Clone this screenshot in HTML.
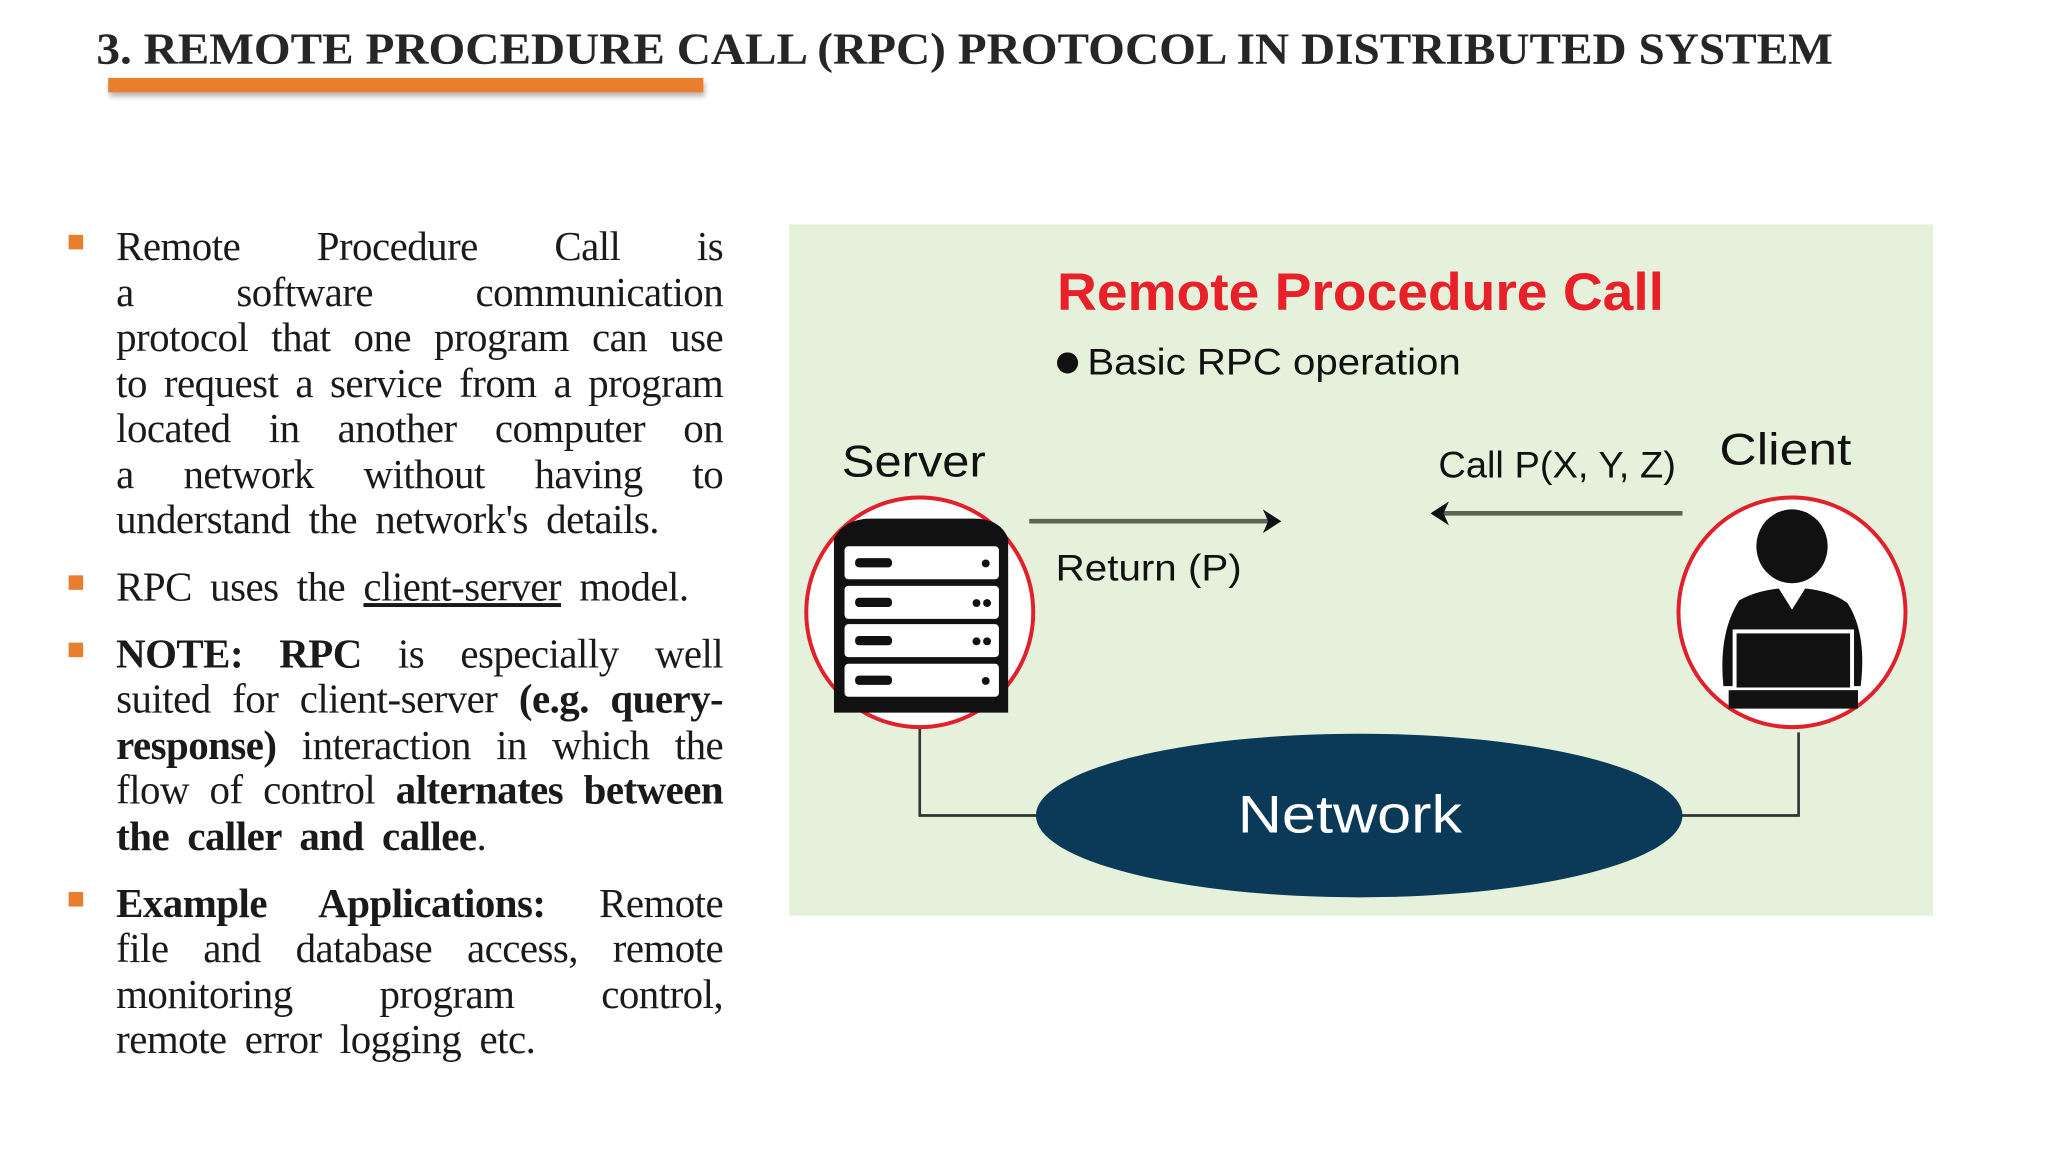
<!DOCTYPE html>
<html><head><meta charset="utf-8"><style>
html,body{margin:0;padding:0;background:#fff;width:2048px;height:1152px;overflow:hidden}
#w{position:absolute;left:0;top:0;width:1552px;height:873px;transform:scale(1.31959);transform-origin:0 0}
svg{position:absolute;left:0;top:0;display:block}
.l{position:absolute;left:88px;width:460px;font-family:"Liberation Serif",serif;font-size:31px;letter-spacing:-0.4px;color:#1a1a1a;white-space:nowrap;text-align:justify;text-align-last:justify;line-height:34px}
.n{text-align-last:left;word-spacing:6.5px}
.d{font-family:"Liberation Sans",sans-serif}
</style></head><body><div id="w">
<svg width="1552" height="873" viewBox="0 0 1552 873" xmlns="http://www.w3.org/2000/svg">
<defs><filter id="sh" x="-5%" y="-50%" width="110%" height="250%"><feDropShadow dx="1" dy="3" stdDeviation="2" flood-color="#000" flood-opacity="0.3"/></filter></defs>
<text x="73" y="48" font-family="Liberation Serif,serif" font-weight="bold" font-size="34" fill="#262626" textLength="1316" lengthAdjust="spacingAndGlyphs">3. REMOTE PROCEDURE CALL (RPC) PROTOCOL IN DISTRIBUTED SYSTEM</text>
<rect x="82" y="59" width="451" height="11" fill="#E87E2E" filter="url(#sh)"/>
<g fill="#E87E2E">
<rect x="52" y="178" width="11" height="11"/><rect x="52" y="436" width="11" height="11"/>
<rect x="52" y="487" width="11" height="11"/><rect x="52" y="676" width="11" height="11"/>
</g>

<rect x="598" y="170" width="867" height="524" fill="#E5F1DB"/>
<text class="d" x="801" y="235" font-size="40" font-weight="bold" fill="#E8202A" textLength="460" lengthAdjust="spacingAndGlyphs">Remote Procedure Call</text>
<circle cx="809" cy="275" r="8" fill="#111"/>
<text class="d" x="824" y="284" font-size="28" fill="#111" textLength="283" lengthAdjust="spacingAndGlyphs">Basic RPC operation</text>
<text class="d" x="638" y="361" font-size="34" fill="#111" textLength="109" lengthAdjust="spacingAndGlyphs">Server</text>
<text class="d" x="1303" y="352" font-size="34" fill="#111" textLength="100" lengthAdjust="spacingAndGlyphs">Client</text>
<text class="d" x="1090" y="362" font-size="28" fill="#111" textLength="180" lengthAdjust="spacingAndGlyphs">Call P(X, Y, Z)</text>
<text class="d" x="800" y="440" font-size="28" fill="#111" textLength="141" lengthAdjust="spacingAndGlyphs">Return (P)</text>

<g stroke="#5D6656" stroke-width="3.5"><line x1="780" y1="395" x2="962" y2="395"/><line x1="1094" y1="389" x2="1275" y2="389"/></g>
<path d="M971 395 L957 386 L961 395 L957 404Z" fill="#111"/>
<path d="M1084 389 L1098 380 L1094 389 L1098 398Z" fill="#111"/>

<g fill="none" stroke="#333" stroke-width="2"><path d="M697 551 V618 H790"/><path d="M1363 555 V618 H1270"/></g>
<ellipse cx="1030" cy="618" rx="245" ry="62" fill="#0B3A58"/>
<text class="d" x="938" y="631" font-size="40" fill="#fff" textLength="170" lengthAdjust="spacingAndGlyphs">Network</text>

<ellipse cx="697" cy="464" rx="86" ry="87" fill="#fff" stroke="#E0202A" stroke-width="3"/>
<path d="M632 540 V408 Q640 393 660 393 H738 Q758 393 764 408 V540Z" fill="#111"/>
<g fill="#fff"><rect x="640" y="414" width="117" height="25" rx="3"/><rect x="640" y="444" width="117" height="25" rx="3"/><rect x="640" y="473" width="117" height="25" rx="3"/><rect x="640" y="503" width="117" height="25" rx="3"/></g>
<g fill="#111"><rect x="648" y="423" width="28" height="7" rx="3"/><rect x="648" y="453" width="28" height="7" rx="3"/><rect x="648" y="482" width="28" height="7" rx="3"/><rect x="648" y="512" width="28" height="7" rx="3"/>
<circle cx="747" cy="427" r="3"/><circle cx="740" cy="457" r="3"/><circle cx="748" cy="457" r="3"/><circle cx="740" cy="486" r="3"/><circle cx="748" cy="486" r="3"/><circle cx="747" cy="516" r="3"/></g>

<ellipse cx="1358" cy="464" rx="86" ry="87" fill="#fff" stroke="#E0202A" stroke-width="3"/>
<ellipse cx="1358" cy="414" rx="27" ry="28" fill="#111"/>
<path d="M1306 520 Q1302 480 1318 455 Q1330 448 1348 446 L1358 462 L1368 446 Q1388 448 1400 457 Q1415 480 1410 520Z" fill="#111"/>
<rect x="1313" y="477" width="92" height="47" fill="#fff"/>
<rect x="1316" y="480" width="86" height="41" fill="#111"/>
<rect x="1310" y="523" width="98" height="14" fill="#111"/>
<path d="M1352 446 L1358 458 L1364 446Z" fill="#fff"/>
</svg>
<div class="l" style="top:170px">Remote Procedure Call is</div>
<div class="l" style="top:205px">a software communication</div>
<div class="l" style="top:239px">protocol that one program can use</div>
<div class="l" style="top:274px">to request a service from a program</div>
<div class="l" style="top:308px">located in another computer on</div>
<div class="l" style="top:343px">a network without having to</div>
<div class="l n" style="top:377px">understand the network's details.</div>
<div class="l n" style="top:428px">RPC uses the <u>client-server</u> model.</div>
<div class="l" style="top:479px"><b>NOTE: RPC</b> is especially well</div>
<div class="l" style="top:513px">suited for client-server <b>(e.g. query-</b></div>
<div class="l" style="top:548px"><b>response)</b> interaction in which the</div>
<div class="l" style="top:582px">flow of control <b>alternates between</b></div>
<div class="l n" style="top:617px"><b>the caller and callee</b>.</div>
<div class="l" style="top:668px"><b>Example Applications:</b> Remote</div>
<div class="l" style="top:702px">file and database access, remote</div>
<div class="l" style="top:737px">monitoring program control,</div>
<div class="l n" style="top:771px">remote error logging etc.</div>
</div></body></html>
